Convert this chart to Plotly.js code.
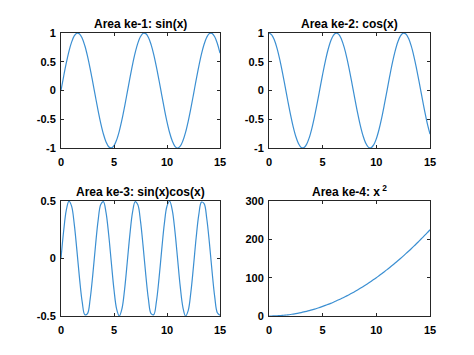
<!DOCTYPE html>
<html>
<head>
<meta charset="utf-8">
<script src="https://cdn.plot.ly/plotly-3.0.1.min.js"></script>
<style>
html,body{margin:0;padding:0;background:#fff;}
#chart{width:474px;height:355px;}
</style>
</head>
<body>
<div id="chart"></div>
<script>
// Sample positions along x (0 to 15)
const xVals = [0,0.25,0.5,0.75,1,1.25,1.5,1.75,2,2.25,2.5,2.75,3,3.25,3.5,3.75,4,4.25,4.5,4.75,5,5.25,5.5,5.75,6,6.25,6.5,6.75,7,7.25,7.5,7.75,8,8.25,8.5,8.75,9,9.25,9.5,9.75,10,10.25,10.5,10.75,11,11.25,11.5,11.75,12,12.25,12.5,12.75,13,13.25,13.5,13.75,14,14.25,14.5,14.75,15];

// Panel 1: sin(x)
const sinVals = [0,0.247,0.479,0.682,0.841,0.949,0.997,0.984,0.909,0.778,0.598,0.382,0.141,-0.108,-0.351,-0.572,-0.757,-0.895,-0.978,-0.999,-0.959,-0.859,-0.706,-0.508,-0.279,-0.033,0.215,0.451,0.657,0.823,0.938,0.995,0.989,0.923,0.798,0.625,0.412,0.174,-0.075,-0.320,-0.544,-0.735,-0.880,-0.970,-1.000,-0.968,-0.875,-0.729,-0.537,-0.311,-0.066,0.183,0.420,0.632,0.804,0.926,0.991,0.994,0.935,0.818,0.650];

// Panel 2: cos(x)
const cosVals = [1,0.969,0.878,0.732,0.540,0.315,0.071,-0.178,-0.416,-0.628,-0.801,-0.924,-0.990,-0.994,-0.936,-0.821,-0.654,-0.446,-0.211,0.037,0.284,0.512,0.709,0.861,0.960,0.999,0.977,0.893,0.754,0.568,0.347,0.104,-0.146,-0.386,-0.602,-0.781,-0.911,-0.985,-0.997,-0.947,-0.839,-0.678,-0.476,-0.243,0.004,0.253,0.485,0.686,0.844,0.950,0.998,0.983,0.907,0.775,0.595,0.376,0.137,-0.112,-0.355,-0.577,-0.760];

// Panel 3: sin(x)cos(x)
const sinCosVals = [0,0.239,0.421,0.499,0.455,0.299,0.071,-0.175,-0.378,-0.489,-0.479,-0.353,-0.140,0.107,0.329,0.470,0.495,0.399,0.206,-0.037,-0.272,-0.440,-0.500,-0.437,-0.268,-0.033,0.210,0.403,0.495,0.467,0.325,0.103,-0.144,-0.356,-0.480,-0.488,-0.375,-0.171,0.075,0.303,0.456,0.498,0.419,0.236,-0.004,-0.245,-0.424,-0.500,-0.453,-0.295,-0.066,0.180,0.381,0.490,0.478,0.348,0.136,-0.111,-0.332,-0.472,-0.494];

// Panel 4: x^2
const sqVals = [0,0.0625,0.25,0.5625,1,1.5625,2.25,3.0625,4,5.0625,6.25,7.5625,9,10.5625,12.25,14.0625,16,18.0625,20.25,22.5625,25,27.5625,30.25,33.0625,36,39.0625,42.25,45.5625,49,52.5625,56.25,60.0625,64,68.0625,72.25,76.5625,81,85.5625,90.25,95.0625,100,105.0625,110.25,115.5625,121,126.5625,132.25,138.0625,144,150.0625,156.25,162.5625,169,175.5625,182.25,189.0625,196,203.0625,210.25,217.5625,225];

const titles = ['Area ke-1: sin(x)','Area ke-2: cos(x)','Area ke-3: sin(x)cos(x)','Area ke-4: x<sup> 2</sup>'];
const xTicks = [0,5,10,15];
const yTicks1 = [-1,-0.5,0,0.5,1];
const yTicks1Text = ['-1','-0.5','0','0.5','1'];
const yTicks3 = [-0.5,0,0.5];
const yTicks3Text = ['-0.5','0','0.5'];
const yTicks4 = [0,100,200,300];

const lineColor = '#3b8fd2';
const fontFam = 'Liberation Sans, Arial, sans-serif';

function tr(y, xa, ya){
  return {x:xVals, y:y, xaxis:xa, yaxis:ya, type:'scatter', mode:'lines',
          line:{color:lineColor, width:1.2, shape:'spline', smoothing:1}, hoverinfo:'skip'};
}
const data = [
  tr(sinVals,'x','y'),
  tr(cosVals,'x2','y2'),
  tr(sinCosVals,'x3','y3'),
  tr(sqVals,'x4','y4')
];

const common = {ticks:'inside', ticklen:3, tickwidth:1, tickcolor:'#262626', showline:true, linecolor:'#262626', linewidth:1,
    mirror:'ticks', showgrid:false, zeroline:false, fixedrange:true,
    tickfont:{family:fontFam, size:11, color:'#000', weight:'bold'}};

function xax(domain, anchor){
  return Object.assign({domain:domain, anchor:anchor, range:[0,15], tickvals:xTicks, ticktext:xTicks.map(String),
    ticklabelstandoff:4}, common);
}
function yax(domain, anchor, range, vals, text){
  return Object.assign({domain:domain, anchor:anchor, range:range, tickvals:vals, ticktext:text,
    ticklabelstandoff:2}, common);
}

const W=474, H=355;
const colL=[61/W, 220/W], colR=[269/W, 430/W];
const rowT=[1-148/H, 1-33/H], rowB=[1-316/H, 1-201/H];

function ann(text, dom, rowTop){
  return {text:text, x:(dom[0]+dom[1])/2, y:rowTop, xref:'paper', yref:'paper',
    xanchor:'center', yanchor:'bottom', yshift:0, showarrow:false,
    font:{family:fontFam, size:12, color:'#000', weight:'bold'}};
}

const layout = {
  width:W, height:H, margin:{l:0,r:0,t:0,b:0},
  paper_bgcolor:'#fff', plot_bgcolor:'#fff', showlegend:false,
  xaxis: xax(colL,'y'), yaxis: yax(rowT,'x',[-1,1],yTicks1,yTicks1Text),
  xaxis2: xax(colR,'y2'), yaxis2: yax(rowT,'x2',[-1,1],yTicks1,yTicks1Text),
  xaxis3: xax(colL,'y3'), yaxis3: yax(rowB,'x3',[-0.5,0.5],yTicks3,yTicks3Text),
  xaxis4: xax(colR,'y4'), yaxis4: yax(rowB,'x4',[0,300],yTicks4,yTicks4.map(String)),
  annotations:[
    ann(titles[0], colL, rowT[1]),
    ann(titles[1], colR, rowT[1]),
    ann(titles[2], colL, rowB[1]),
    ann(titles[3], colR, rowB[1])
  ]
};

Plotly.newPlot('chart', data, layout, {displayModeBar:false, staticPlot:true});
</script>
</body>
</html>
